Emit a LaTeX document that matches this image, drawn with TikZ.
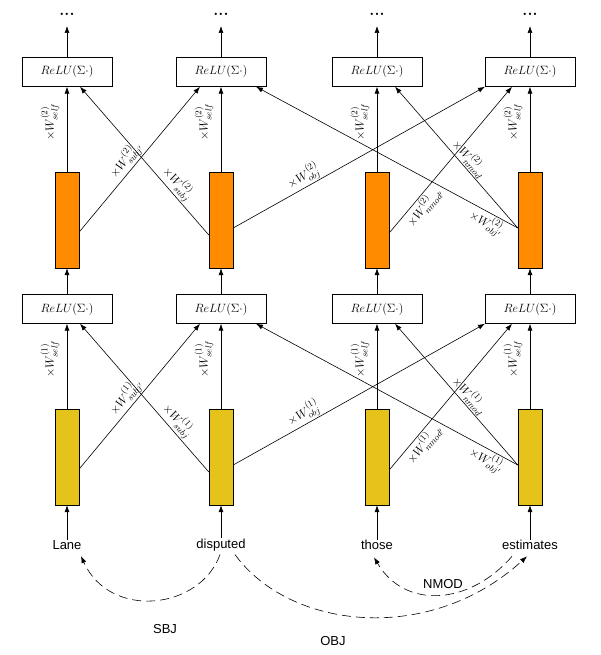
\documentclass[tikz,border=0pt]{standalone}
\usepackage{fontspec}
\setsansfont{Liberation Sans}
\usetikzlibrary{arrows.meta}
\begin{document}
\begin{tikzpicture}[x=1pt,y=-1pt,
  box/.style={draw,minimum width=90pt,minimum height=29pt,inner sep=0pt,font=\fontsize{13}{15}\selectfont},
  bar/.style={draw,minimum width=24pt,minimum height=96pt,inner sep=0pt},
  arr/.style={-{Latex[length=7pt,width=5pt]},line width=0.6pt},
  lab/.style={font=\fontsize{13}{15}\selectfont,inner sep=1pt},
  word/.style={font=\sffamily\fontsize{13}{15}\selectfont},
  dep/.style={arr,dash pattern=on 9pt off 5pt},
  deplab/.style={font=\sffamily\fontsize{13}{15}\selectfont}]
\useasboundingbox (0,0) rectangle (600,655);
\newcommand{\mylayer}[4]{% #1 name prefix, #2 y offset, #3 superscript, #4 colour
  \foreach \i/\x in {1/67,2/221,3/377,4/530}{
    \node[box] (#1r\i) at (\x,72+#2) {$ReLU(\Sigma\cdot)$};
    \node[bar,fill=#4] (#1b\i) at (\x,220+#2) {};
    \draw[arr] (#1b\i.north) -- (#1r\i.south);
    \node[lab,rotate=90] (#1s\i) at (\x-17,122+#2) {$\times W^{(#3)}_{self}$};
  }
  \draw[arr] ([yshift=-12pt]#1b1.east) -- node[lab,sloped,pos=0.45,above] (#1l1) {$\times W^{(#3)}_{subj'}$} ([xshift=-21pt]#1r2.south);
  \draw[arr] ([yshift=-15pt]#1b2.west) -- node[lab,sloped,pos=0.3,above] (#1l2) {$\times W^{(#3)}_{subj}$} ([xshift=13pt]#1r1.south);
  \draw[arr] ([yshift=-8pt]#1b2.east) -- node[lab,sloped,pos=0.3,above] (#1l3) {$\times W^{(#3)}_{obj}$} ([xshift=-45pt]#1r4.south);
  \draw[arr] ([yshift=-13pt]#1b3.east) -- node[lab,sloped,pos=0.22,below] (#1l4) {$\times W^{(#3)}_{nmod'}$} ([xshift=-18pt]#1r4.south);
  \draw[arr] ([yshift=-8pt]#1b4.west) -- node[lab,sloped,pos=0.45,above] (#1l5) {$\times W^{(#3)}_{nmod}$} ([xshift=18pt]#1r3.south);
  \draw[arr] ([yshift=-8pt]#1b4.west) -- node[lab,sloped,pos=0.1,below] (#1l6) {$\times W^{(#3)}_{obj'}$} ([xshift=35pt]#1r2.south);
}
\mylayer{U}{0}{2}{orange!90!yellow}
\mylayer{L}{237}{1}{yellow!70!orange!90!black}
\foreach \i/\x in {1/67,2/221,3/377,4/530}{
  \node[font=\bfseries\fontsize{16}{16}\selectfont] (d\i) at (\x,14) {...};
  \draw[arr] (Ur\i.north) -- (\x,26);
  \draw[arr] (Lr\i.north) -- (Ub\i.south);
}
\node[word] (w1) at (67,545) {Lane};
\node[word] (w2) at (221,545) {disputed};
\node[word] (w3) at (377,545) {those};
\node[word] (w4) at (530,545) {estimates};
\foreach \i in {1,...,4}{\draw[arr] ([yshift=-3pt]w\i.north) -- (Lb\i.south);}
\draw[dep] ([xshift=-1pt]w2.south) .. controls (200,610) and (110,620) .. ([xshift=14pt,yshift=-3pt]w1.south);
\node[deplab] (sbj) at (165,629) {SBJ};
\draw[dep] ([xshift=14pt]w2.south) .. controls (290,630) and (430,645) .. ([xshift=-3pt,yshift=-3pt]w4.south);
\node[deplab] (obj) at (333,641) {OBJ};
\draw[dep] ([xshift=-18pt,yshift=-3pt]w4.south) .. controls (470,605) and (405,610) .. ([xshift=-3pt,yshift=-4pt]w3.south);
\node[deplab] (nmod) at (443,584) {NMOD};
\end{tikzpicture}
\end{document}
